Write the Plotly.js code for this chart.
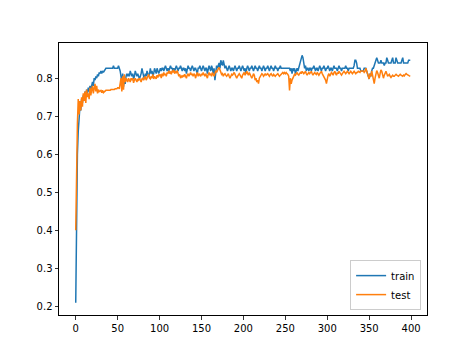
<!DOCTYPE html>
<html>
<head>
<meta charset="utf-8">
<script src="https://cdn.plot.ly/plotly-3.0.1.min.js"></script>
<style>html,body{margin:0;padding:0;background:#fff;}#chart{width:474px;height:355px;}</style>
</head>
<body>
<div id="chart"></div>
<script>
const seriesNames = ["train", "test"];
const trainAcc = [
0.210,0.450,0.600,0.660,0.700,0.725,0.715,0.745,0.735,0.755,
0.745,0.765,0.750,0.770,0.760,0.775,0.765,0.780,0.770,0.785,
0.790,0.780,0.800,0.795,0.805,0.800,0.810,0.805,0.815,0.812,
0.819,0.812,0.819,0.815,0.819,0.826,0.826,0.826,0.826,0.826,
0.826,0.826,0.826,0.826,0.826,0.833,0.826,0.826,0.826,0.826,
0.826,0.833,0.826,0.819,0.805,0.790,0.812,0.778,0.798,0.785,
0.805,0.812,0.805,0.812,0.805,0.819,0.812,0.805,0.812,0.798,
0.805,0.819,0.812,0.805,0.812,0.805,0.798,0.805,0.812,0.826,
0.812,0.805,0.798,0.812,0.805,0.819,0.812,0.805,0.812,0.826,
0.812,0.819,0.805,0.812,0.826,0.819,0.812,0.826,0.819,0.812,
0.819,0.826,0.819,0.826,0.826,0.819,0.826,0.833,0.826,0.819,
0.826,0.819,0.826,0.833,0.826,0.826,0.819,0.826,0.819,0.826,
0.833,0.826,0.819,0.826,0.826,0.833,0.826,0.819,0.826,0.826,
0.819,0.826,0.812,0.826,0.833,0.826,0.826,0.819,0.826,0.833,
0.826,0.819,0.826,0.826,0.819,0.812,0.826,0.826,0.833,0.826,
0.819,0.826,0.833,0.826,0.819,0.826,0.826,0.812,0.826,0.833,
0.826,0.819,0.833,0.826,0.812,0.826,0.795,0.819,0.833,0.826,
0.833,0.840,0.826,0.847,0.840,0.833,0.847,0.833,0.826,0.833,
0.826,0.819,0.826,0.833,0.826,0.819,0.826,0.826,0.819,0.826,
0.833,0.826,0.819,0.826,0.826,0.833,0.826,0.819,0.826,0.833,
0.826,0.819,0.826,0.812,0.826,0.833,0.826,0.819,0.826,0.826,
0.833,0.826,0.819,0.826,0.833,0.826,0.826,0.819,0.826,0.833,
0.826,0.826,0.819,0.826,0.833,0.826,0.819,0.826,0.826,0.833,
0.826,0.819,0.826,0.833,0.826,0.826,0.819,0.826,0.833,0.826,
0.826,0.819,0.826,0.826,0.833,0.826,0.826,0.826,0.826,0.826,
0.826,0.826,0.826,0.826,0.826,0.826,0.819,0.826,0.812,0.826,
0.819,0.826,0.812,0.819,0.826,0.819,0.826,0.833,0.840,0.847,
0.860,0.854,0.840,0.826,0.833,0.819,0.826,0.826,0.819,0.826,
0.826,0.819,0.826,0.826,0.833,0.826,0.819,0.826,0.826,0.819,
0.826,0.833,0.826,0.819,0.826,0.826,0.833,0.826,0.819,0.826,
0.826,0.833,0.826,0.819,0.826,0.826,0.819,0.826,0.833,0.826,
0.826,0.826,0.819,0.826,0.833,0.826,0.826,0.819,0.826,0.826,
0.826,0.826,0.833,0.826,0.826,0.819,0.826,0.826,0.826,0.826,
0.826,0.826,0.833,0.847,0.847,0.840,0.826,0.826,0.826,0.826,
0.819,0.819,0.819,0.819,0.826,0.826,0.826,0.819,0.812,0.805,
0.798,0.812,0.805,0.819,0.826,0.826,0.833,0.840,0.847,0.854,
0.847,0.840,0.840,0.840,0.847,0.840,0.840,0.840,0.833,0.840,
0.840,0.854,0.847,0.840,0.840,0.840,0.840,0.847,0.854,0.840,
0.840,0.840,0.854,0.847,0.840,0.840,0.840,0.840,0.840,0.847,
0.854,0.840,0.840,0.840,0.840,0.840,0.840,0.847,0.847,0.847
];
const testAcc = [
0.400,0.580,0.680,0.745,0.705,0.740,0.715,0.750,0.725,0.760,
0.740,0.765,0.735,0.770,0.750,0.760,0.745,0.775,0.755,0.770,
0.780,0.760,0.775,0.785,0.765,0.780,0.760,0.770,0.765,0.768,
0.768,0.762,0.768,0.762,0.765,0.768,0.768,0.768,0.768,0.768,
0.768,0.768,0.770,0.770,0.770,0.770,0.770,0.772,0.772,0.772,
0.775,0.775,0.772,0.790,0.800,0.765,0.805,0.770,0.810,0.790,
0.800,0.795,0.790,0.800,0.795,0.790,0.800,0.795,0.800,0.788,
0.795,0.800,0.795,0.790,0.798,0.795,0.800,0.795,0.790,0.798,
0.800,0.795,0.800,0.805,0.795,0.800,0.805,0.810,0.800,0.798,
0.805,0.800,0.810,0.798,0.805,0.800,0.798,0.808,0.802,0.810,
0.805,0.810,0.800,0.812,0.805,0.815,0.808,0.812,0.805,0.815,
0.812,0.820,0.812,0.818,0.810,0.820,0.815,0.822,0.812,0.818,
0.815,0.820,0.812,0.805,0.810,0.800,0.805,0.802,0.808,0.805,
0.810,0.805,0.800,0.808,0.812,0.805,0.810,0.815,0.808,0.812,
0.805,0.812,0.808,0.800,0.810,0.815,0.805,0.812,0.808,0.805,
0.812,0.808,0.815,0.810,0.805,0.812,0.808,0.800,0.810,0.815,
0.808,0.812,0.805,0.815,0.810,0.805,0.812,0.820,0.815,0.822,
0.825,0.828,0.820,0.815,0.810,0.812,0.805,0.810,0.812,0.808,
0.805,0.808,0.812,0.805,0.800,0.805,0.810,0.808,0.812,0.815,
0.810,0.805,0.800,0.805,0.808,0.812,0.808,0.805,0.800,0.808,
0.812,0.815,0.808,0.812,0.818,0.812,0.808,0.815,0.810,0.805,
0.800,0.805,0.812,0.808,0.795,0.800,0.790,0.795,0.786,0.800,
0.805,0.808,0.812,0.810,0.805,0.808,0.812,0.808,0.810,0.812,
0.808,0.805,0.810,0.812,0.808,0.805,0.810,0.808,0.805,0.808,
0.810,0.812,0.808,0.805,0.808,0.810,0.812,0.815,0.812,0.815,
0.812,0.815,0.812,0.810,0.805,0.768,0.800,0.785,0.795,0.800,
0.805,0.810,0.808,0.812,0.815,0.810,0.808,0.812,0.815,0.812,
0.818,0.815,0.812,0.815,0.818,0.812,0.808,0.812,0.815,0.812,
0.815,0.818,0.812,0.808,0.812,0.815,0.812,0.810,0.815,0.812,
0.808,0.812,0.815,0.818,0.812,0.808,0.805,0.800,0.795,0.786,
0.800,0.808,0.812,0.805,0.810,0.815,0.812,0.808,0.815,0.818,
0.812,0.808,0.815,0.812,0.818,0.815,0.812,0.808,0.812,0.815,
0.818,0.815,0.812,0.815,0.818,0.815,0.812,0.815,0.818,0.815,
0.812,0.815,0.818,0.815,0.812,0.815,0.815,0.818,0.815,0.815,
0.819,0.819,0.819,0.819,0.815,0.818,0.826,0.819,0.812,0.805,
0.798,0.812,0.805,0.819,0.810,0.795,0.786,0.800,0.812,0.820,
0.815,0.805,0.800,0.812,0.822,0.818,0.810,0.800,0.808,0.815,
0.818,0.812,0.805,0.808,0.810,0.805,0.802,0.805,0.808,0.805,
0.805,0.808,0.810,0.808,0.805,0.805,0.808,0.810,0.808,0.806,
0.805,0.808,0.806,0.810,0.812,0.810,0.808,0.808,0.806,0.805
];
const epochs = trainAcc.map((_, i) => i);
const xTicks = [0, 50, 100, 150, 200, 250, 300, 350, 400];
const yTicks = [0.2, 0.3, 0.4, 0.5, 0.6, 0.7, 0.8];
const yTickText = ["0.2", "0.3", "0.4", "0.5", "0.6", "0.7", "0.8"];

const traces = [
  {x: epochs, y: trainAcc, name: seriesNames[0], type: "scatter", mode: "lines",
   line: {color: "#1f77b4", width: 1.5}},
  {x: epochs, y: testAcc, name: seriesNames[1], type: "scatter", mode: "lines",
   line: {color: "#ff7f0e", width: 1.5}}
];

const axisCommon = {
  showgrid: false, zeroline: false, showline: true, mirror: true,
  linecolor: "#000", linewidth: 1, ticks: "outside", ticklen: 3.5,
  tickwidth: 0.8, tickcolor: "#000",
  tickfont: {family: "DejaVu Sans", size: 10, color: "#000"}
};

const layout = {
  width: 474, height: 355,
  margin: {l: 59, r: 47, t: 43, b: 40},
  paper_bgcolor: "#fff", plot_bgcolor: "#fff",
  showlegend: true,
  xaxis: Object.assign({}, axisCommon, {range: [-19.95, 418.95], tickvals: xTicks}),
  yaxis: Object.assign({}, axisCommon, {range: [0.1775, 0.8925], tickvals: yTicks, ticktext: yTickText}),
  legend: {x: 0.984, xanchor: "right", y: 0.018, yanchor: "bottom",
    bgcolor: "rgba(255,255,255,0.8)", bordercolor: "#cccccc", borderwidth: 1,
    font: {family: "DejaVu Sans", size: 10, color: "#000"},
    tracegroupgap: 0, itemwidth: 30}
};

Plotly.newPlot("chart", traces, layout, {displayModeBar: false, staticPlot: true});
</script>
</body>
</html>
